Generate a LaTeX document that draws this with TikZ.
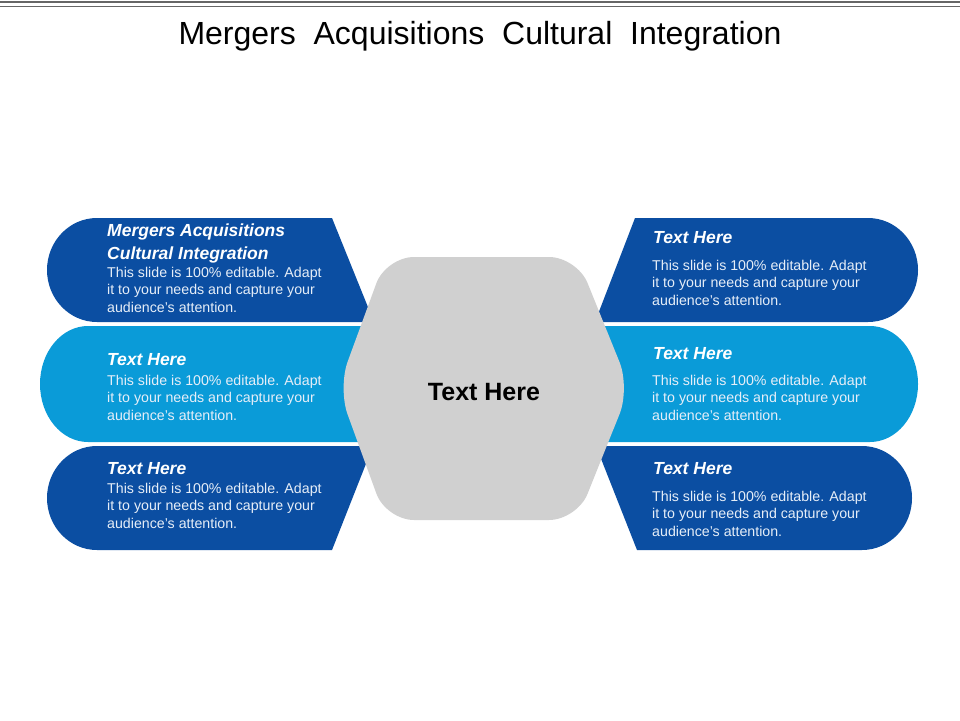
\documentclass[tikz,border=0pt]{standalone}
\usepackage{fontspec}
\setmainfont{Liberation Sans}
\definecolor{dblue}{HTML}{0B4EA2}
\definecolor{lblue}{HTML}{0A9BD8}
\definecolor{hexgray}{HTML}{D0D0D0}
\definecolor{bodytxt}{HTML}{E6EEF8}
\begin{document}
\begin{tikzpicture}[x=1pt,y=-1pt,
  ttl/.style={anchor=west,inner sep=0,text=white,font=\fontsize{17.5}{23}\selectfont\bfseries\itshape,align=left},
  body/.style={anchor=north west,inner sep=0,text=bodytxt,font=\fontsize{14.2}{17.5}\selectfont,align=left}]
\useasboundingbox (0,0) rectangle (960,720);
\fill[white] (0,0) rectangle (960,720);
\draw[gray!80!black,line width=2.2pt] (0,2) -- (960,2);
\draw[gray!80!black,line width=0.8pt] (0,6.5) -- (960,6.5);
\node (title) at (480,36) {\fontsize{32}{36}\selectfont Mergers\ \ Acquisitions\ \ Cultural\ \ Integration};
% middle band
\fill[lblue] (88,326) -- (870,326) arc[start angle=-90,end angle=90,x radius=48,y radius=58] -- (88,442) arc[start angle=90,end angle=270,x radius=48,y radius=58] -- cycle;
% left bands
\fill[dblue] (332,218) -- (97,218) arc[start angle=-90,end angle=-270,x radius=50,y radius=52] -- (374,322) -- cycle;
\fill[dblue] (373,446) -- (97,446) arc[start angle=-90,end angle=-270,x radius=50,y radius=52] -- (332,550) -- cycle;
% right bands
\fill[dblue] (635,218) -- (868,218) arc[start angle=-90,end angle=90,x radius=50,y radius=52] -- (595,322) -- cycle;
\fill[dblue] (596,446) -- (862,446) arc[start angle=-90,end angle=90,x radius=50,y radius=52] -- (637,550) -- cycle;
% hexagon
\fill[hexgray,rounded corners=28pt] (386,257) -- (577,257) -- (630,388) -- (577,520) -- (386,520) -- (338,388) -- cycle;
\node[font=\fontsize{25}{28}\selectfont\bfseries] (center) at (484,392) {Text Here};
% left texts
\node[ttl] (t1) at (107,243.5) {Mergers Acquisitions\\Cultural Integration};
\node[body] (b1) at (107,267) {This slide is 100\% editable. Adapt\\it to your needs and capture your\\audience's attention.};
\node[ttl] (t2) at (107,360) {Text Here};
\node[body] (b2) at (107,375) {This slide is 100\% editable. Adapt\\it to your needs and capture your\\audience's attention.};
\node[ttl] (t3) at (107,469) {Text Here};
\node[body] (b3) at (107,483) {This slide is 100\% editable. Adapt\\it to your needs and capture your\\audience's attention.};
% right texts
\node[ttl] (t4) at (653,238) {Text Here};
\node[body] (b4) at (652,260) {This slide is 100\% editable. Adapt\\it to your needs and capture your\\audience's attention.};
\node[ttl] (t5) at (653,354) {Text Here};
\node[body] (b5) at (652,375) {This slide is 100\% editable. Adapt\\it to your needs and capture your\\audience's attention.};
\node[ttl] (t6) at (653,469) {Text Here};
\node[body] (b6) at (652,491) {This slide is 100\% editable. Adapt\\it to your needs and capture your\\audience's attention.};
\end{tikzpicture}
\end{document}
